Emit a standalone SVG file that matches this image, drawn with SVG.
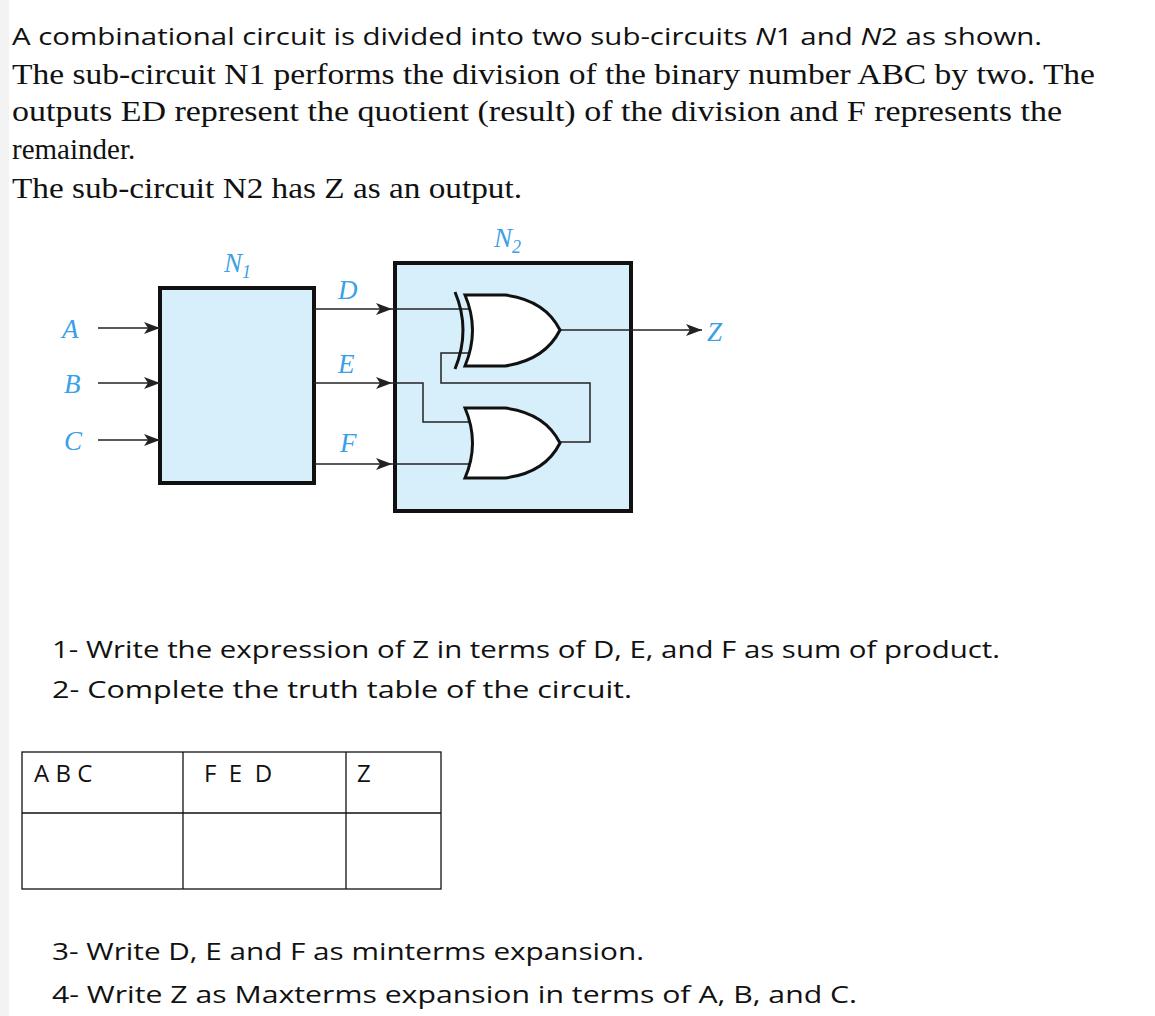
<svg xmlns="http://www.w3.org/2000/svg" width="1155" height="1016" viewBox="0 0 1155 1016">
<style>
.s{font-family:"Open Sans","Liberation Sans",sans-serif;font-size:24px;fill:#111}
.t{font-family:"Liberation Serif",serif;font-size:29px;fill:#111}
.l{font-family:"Liberation Serif",serif;font-style:italic;font-size:27px;fill:#3aa0e8}
.box{fill:#d6effb;stroke:#111;stroke-width:4}
.w{fill:none;stroke:#222;stroke-width:1.5}
.g{fill:#fff;stroke:#111;stroke-width:3}
.cell{fill:none;stroke:#111;stroke-width:1.3}
</style>
<defs><marker id="ar" viewBox="0 0 16 12" refX="16" refY="6" markerWidth="16" markerHeight="12" markerUnits="userSpaceOnUse" orient="auto"><path d="M0,0 L16,6 L0,12 L4,6 Z" fill="#222"/></marker></defs>
<rect width="1155" height="1016" fill="#fff"/>
<rect x="0" y="0" width="9" height="1016" fill="#f3f3f3"/>
<text class="s" x="12" y="45" textLength="1030" lengthAdjust="spacingAndGlyphs">A combinational circuit is divided into two sub-circuits <tspan font-style="italic">N</tspan>1 and <tspan font-style="italic">N</tspan>2 as shown.</text>
<text class="t" x="12" y="84" textLength="1083" lengthAdjust="spacingAndGlyphs">The sub-circuit N1 performs the division of the binary number ABC by two. The</text>
<text class="t" x="12" y="121" textLength="1050" lengthAdjust="spacingAndGlyphs">outputs  ED represent the quotient  (result) of the division and F represents the</text>
<text class="t" x="12" y="159">remainder.</text>
<text class="t" x="12" y="198" textLength="510" lengthAdjust="spacingAndGlyphs">The sub-circuit N2 has Z as an output.</text>
<g id="N1"><rect class="box" x="160" y="288" width="154" height="195"/><text class="l" x="224" y="272">N<tspan font-size="18" dy="6">1</tspan></text></g>
<g id="N2"><rect class="box" x="395" y="263" width="236" height="248"/><text class="l" x="494" y="247">N<tspan font-size="18" dy="6">2</tspan></text></g>
<g id="labels">
<text class="l" x="62" y="338">A</text><text class="l" x="64" y="393">B</text><text class="l" x="64" y="450">C</text>
<text class="l" x="338" y="299">D</text><text class="l" x="338" y="373">E</text><text class="l" x="340" y="452">F</text>
<text class="l" x="707" y="341">Z</text>
</g>
<g id="connectors">
<line class="w" x1="98" y1="328" x2="160" y2="328" marker-end="url(#ar)"/>
<line class="w" x1="98" y1="383" x2="160" y2="383" marker-end="url(#ar)"/>
<line class="w" x1="98" y1="440" x2="160" y2="440" marker-end="url(#ar)"/>
<line class="w" x1="314" y1="309" x2="392" y2="309" marker-end="url(#ar)"/>
<line class="w" x1="314" y1="383" x2="392" y2="383" marker-end="url(#ar)"/>
<line class="w" x1="314" y1="464" x2="392" y2="464" marker-end="url(#ar)"/>
<line class="w" x1="392" y1="309" x2="470" y2="309"/>
<polyline class="w" points="392,383 423,383 423,422 470,422"/>
<line class="w" x1="392" y1="464" x2="470" y2="464"/>
<polyline class="w" points="560,442 590,442 590,383 441,383 441,353 470,353"/>
<line class="w" x1="560" y1="330" x2="702" y2="330" marker-end="url(#ar)"/>
</g>
<g id="xor"><path class="g" d="M465,295 L505,295 Q545,300 560,330 Q545,360 505,366 L465,366 Q480,330 465,295 Z"/><path fill="none" stroke="#111" stroke-width="3" d="M455,292 Q471,330 455,369"/></g>
<g id="or"><path class="g" d="M465,408 L505,408 Q545,413 560,443 Q545,473 505,478 L465,478 Q480,443 465,408 Z"/></g>
<text class="s" x="52" y="658" textLength="948" lengthAdjust="spacingAndGlyphs">1-  Write the expression of Z in terms of D, E, and F as sum of product.</text>
<text class="s" x="52" y="698" textLength="580" lengthAdjust="spacingAndGlyphs">2-  Complete  the truth table of the circuit.</text>
<g id="table">
<rect class="cell" x="22" y="752" width="419" height="137"/>
<line class="cell" x1="22" y1="813" x2="441" y2="813"/>
<line class="cell" x1="183" y1="752" x2="183" y2="889"/>
<line class="cell" x1="346" y1="752" x2="346" y2="889"/>
<text class="s" x="34" y="782">A B C</text>
<text class="s" x="204" y="782" xml:space="preserve">F  E  D</text>
<text class="s" x="357" y="782">Z</text>
</g>
<text class="s" x="52" y="960" textLength="592" lengthAdjust="spacingAndGlyphs">3-  Write D, E and F as minterms expansion.</text>
<text class="s" x="52" y="1003" textLength="805" lengthAdjust="spacingAndGlyphs">4-  Write Z as Maxterms  expansion  in terms of A, B, and C.</text>
</svg>
